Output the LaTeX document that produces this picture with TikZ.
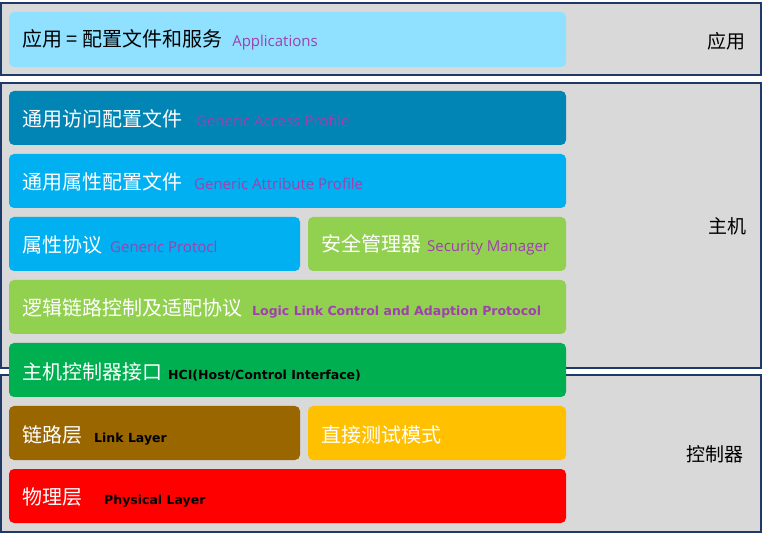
\documentclass[tikz,border=0pt]{standalone}
\usepackage{fontspec}
\setmainfont{Open Sans}
\newfontfamily\cjk{Noto Sans CJK SC}
\newfontfamily\bfl{DejaVu Sans}
\newfontfamily\rl{Open Sans}
\definecolor{frameblue}{HTML}{1F3A68}
\definecolor{bggray}{HTML}{D9D9D9}
\definecolor{lab}{HTML}{A040B0}
\definecolor{cApp}{HTML}{8FE1FF}
\definecolor{cGap}{HTML}{0085B5}
\definecolor{cBlue}{HTML}{00B0F0}
\definecolor{cLime}{HTML}{92D050}
\definecolor{cGreen}{HTML}{00B050}
\definecolor{cBrown}{HTML}{996600}
\definecolor{cYellow}{HTML}{FFC000}
\definecolor{cRed}{HTML}{FF0000}
\newcommand{\lbl}[1]{{\rl\fontsize{15}{17}\selectfont\color{lab}#1}}
\newcommand{\lbb}[2]{{\bfl\bfseries\fontsize{12.5}{14}\selectfont\color{#1}#2}}
\tikzset{
  frame/.style={draw=frameblue,line width=1.5pt,fill=bggray},
  layer/.style={rounded corners=5pt,draw=none},
  cn/.style={font=\cjk\fontsize{20}{22}\selectfont,anchor=west,inner sep=0pt},
  side/.style={font=\cjk\fontsize{19}{21}\selectfont,anchor=center}
}
\begin{document}
\begin{tikzpicture}[x=1pt,y=-1pt]
\useasboundingbox (0,0) rectangle (763,534);
\draw[frame] (1,3) rectangle (761,75);
\draw[frame] (1,83) rectangle (761,368);
\draw[frame] (1,375) rectangle (761,532);
\node[side] (s1) at (726,41) {应用};
\node[side] (s2) at (727,226) {主机};
\node[side] (s3) at (715,454) {控制器};
\fill[layer,fill=cApp] (9,12) rectangle (566,67);
\node[cn] (a) at (22,40) {应用 = 配置文件和服务\hspace{10pt}\lbl{Applications}};
\fill[layer,fill=cGap] (9,91) rectangle (566,145);
\node[cn,text=white] (g) at (22,119) {通用访问配置文件\hspace{14pt}\lbl{Generic Access Profile}};
\fill[layer,fill=cBlue] (9,154) rectangle (566,208);
\node[cn,text=white] (gt) at (22,182) {通用属性配置文件\hspace{12pt}\lbl{Generic Attribute Profile}};
\fill[layer,fill=cBlue] (9,217) rectangle (300,271);
\node[cn,text=white] (at) at (22,245) {属性协议\hspace{8pt}\lbl{Generic Protocl}};
\fill[layer,fill=cLime] (308,217) rectangle (566,271);
\node[cn,text=white] (sm) at (321,245) {安全管理器\hspace{6pt}\lbl{Security Manager}};
\fill[layer,fill=cLime] (9,280) rectangle (566,334);
\node[cn,text=white] (l2) at (22,308) {逻辑链路控制及适配协议\hspace{10pt}\lbb{lab}{Logic Link Control and Adaption Protocol}};
\fill[layer,fill=cGreen] (9,343) rectangle (566,397);
\node[cn,text=white] (hci) at (22,372) {主机控制器接口\hspace{6pt}\lbb{black}{HCI(Host/Control Interface)}};
\fill[layer,fill=cBrown] (9,406) rectangle (300,460);
\node[cn,text=white] (ll) at (22,435) {链路层\hspace{12pt}\lbb{black}{Link Layer}};
\fill[layer,fill=cYellow] (308,406) rectangle (566,460);
\node[cn,text=white] (dt) at (321,435) {直接测试模式};
\fill[layer,fill=cRed] (9,469) rectangle (566,523);
\node[cn,text=white] (ph) at (22,497) {物理层\hspace{22pt}\lbb{black}{Physical Layer}};
\end{tikzpicture}
\end{document}
